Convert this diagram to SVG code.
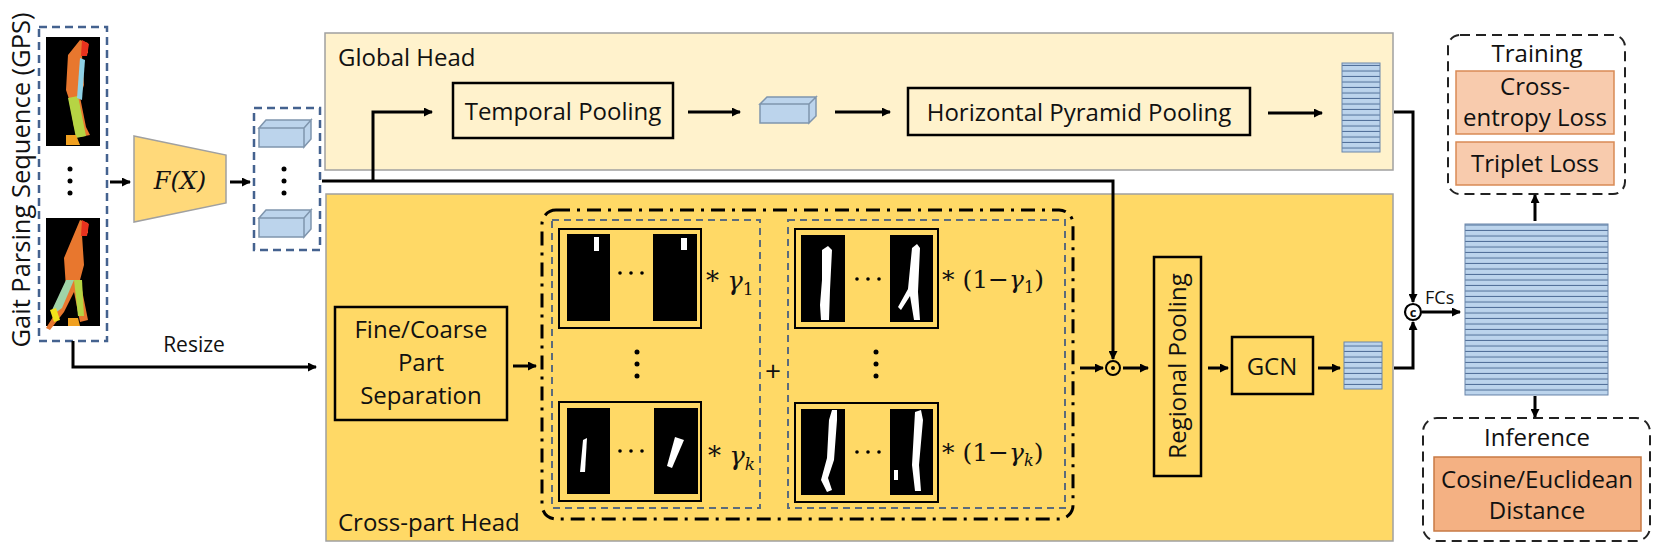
<svg xmlns="http://www.w3.org/2000/svg" width="1653" height="544" viewBox="0 0 1653 544">
<style>
text{font-family:"Open Sans","Noto Sans",sans-serif;fill:#111}
.box{fill:none;stroke:#000;stroke-width:2.5}
.ln{fill:none;stroke:#000;stroke-width:3}
.dash{fill:none;stroke:#44628f;stroke-width:2.5;stroke-dasharray:8,5}
.gdash{fill:none;stroke:#5b6b7c;stroke-width:2;stroke-dasharray:7,5}
.ddash{fill:none;stroke:#222;stroke-width:2;stroke-dasharray:10,6}
.cube{fill:#bcd4ec;stroke:#7f95ad;stroke-width:1.5}
.stack{fill:url(#stripe);stroke:#6b86aa;stroke-width:1}
.loss{fill:#f8cbad;stroke:#d98a55;stroke-width:1.5}
.loss2{fill:#f4b183;stroke:#c77a44;stroke-width:1.5}
.img{fill:#000}
.sil{fill:#fff}
.ibox{fill:none;stroke:#000;stroke-width:2}
.math{font-family:"DejaVu Serif","Liberation Serif",serif}
</style>
<defs>
<marker id="ah" markerWidth="9" markerHeight="9" refX="8" refY="4.5" orient="auto" markerUnits="userSpaceOnUse"><path d="M0,0 L9,4.5 L0,9 z" fill="#000"/></marker>
<pattern id="stripe" width="10" height="5.5" patternUnits="userSpaceOnUse"><rect width="10" height="5.5" fill="#bcd4ec"/><line x1="0" y1="5" x2="10" y2="5" stroke="#4e6d96" stroke-width="1"/></pattern>
</defs>

<g id="panels">
<rect id="global-head" x="325" y="33" width="1068" height="137" fill="#fff2cc" stroke="#a0a0a0" stroke-width="1.5"/>
<rect id="cross-part-head" x="326" y="194" width="1067" height="347" fill="#ffd966" stroke="#a0a0a0" stroke-width="1.5"/>
<text x="338" y="66" font-size="24">Global Head</text>
<text x="338" y="531" font-size="24">Cross-part Head</text>
</g>

<g id="gps">
<text transform="translate(30,180) rotate(-90)" font-size="26" text-anchor="middle" textLength="335" lengthAdjust="spacingAndGlyphs">Gait Parsing Sequence (GPS)</text>
<rect class="dash" x="39" y="27" width="68" height="314"/>
<rect class="img" x="46" y="37" width="54" height="109"/>
<path d="M80,40 l8,3 l0,10 l-6,2 l2,30 l-4,12 l6,30 l4,8 l-10,2 l-6,-10 l-4,-25 l-4,-12 l2,-35 z" fill="#e8772e"/>
<path d="M82,40 l7,4 l-2,12 l-6,0 z" fill="#e8321e"/>
<path d="M68,98 l10,-2 l8,40 l-10,2 z" fill="#b6d444"/>
<path d="M80,58 l5,2 l-3,40 l-5,-2 z" fill="#8ed1e6"/>
<path d="M66,135 l10,0 l4,10 l-14,0 z" fill="#f0a020"/>
<rect class="img" x="46" y="218" width="54" height="108"/>
<path d="M80,220 l8,3 l0,10 l-6,2 l2,30 l-4,15 l8,40 l-8,2 l-6,-30 l-10,20 l-14,18 l-4,-2 l14,-22 l6,-18 l-2,-30 z" fill="#e8772e"/>
<path d="M82,220 l7,4 l-2,12 l-6,0 z" fill="#e8321e"/>
<path d="M66,280 l8,0 l-12,28 l-8,6 l-2,-4 z" fill="#9fd3a8"/>
<path d="M74,280 l8,0 l2,36 l-6,0 z" fill="#b6d444"/>
<path d="M50,310 l6,-2 l4,12 l-6,2 z" fill="#f2e21a"/>
<path d="M68,318 l10,0 l2,8 l-12,0 z" fill="#f0a020"/>
<circle cx="70" cy="169" r="2.5"/><circle cx="70" cy="181" r="2.5"/><circle cx="70" cy="193" r="2.5"/>
</g>

<g id="fx">
<polygon points="134,136 226,155 226,203 134,222" fill="#ffd97a" stroke="#a0a0a0" stroke-width="1.5"/>
<text class="math" x="180" y="189" font-size="24" text-anchor="middle" font-style="italic">F(X)</text>
</g>

<g id="features">
<rect class="dash" x="254" y="108" width="66" height="142"/>
<path class="cube" d="M259,128 h45 v19 h-45 z M259,128 l7,-8 h45 l-7,8 z M304,128 l7,-8 v19 l-7,8 z"/>
<path class="cube" d="M259,218 h45 v19 h-45 z M259,218 l7,-8 h45 l-7,8 z M304,218 l7,-8 v19 l-7,8 z"/>
<circle cx="284" cy="169" r="2.5"/><circle cx="284" cy="181" r="2.5"/><circle cx="284" cy="193" r="2.5"/>
</g>

<g id="temporal-pooling">
<rect class="box" x="453" y="83" width="220" height="55"/>
<text x="563" y="120" font-size="24" text-anchor="middle">Temporal Pooling</text>
</g>
<g id="small-cube">
<path class="cube" d="M760,104 h49 v19 h-49 z M760,104 l7,-7 h49 l-7,7 z M809,104 l7,-7 v19 l-7,7 z"/>
</g>
<g id="hpp">
<rect class="box" x="908" y="88" width="342" height="47"/>
<text x="1079" y="121" font-size="24" text-anchor="middle">Horizontal Pyramid Pooling</text>
</g>
<rect id="global-feature" class="stack" x="1342" y="63" width="38" height="89"/>

<g id="fine-coarse">
<rect class="box" x="335" y="307" width="172" height="113"/>
<text x="421" y="338" font-size="24" text-anchor="middle">Fine/Coarse</text>
<text x="421" y="371" font-size="24" text-anchor="middle">Part</text>
<text x="421" y="404" font-size="24" text-anchor="middle">Separation</text>
</g>

<g id="part-maps">
<rect x="542" y="210" width="531" height="309" rx="14" fill="none" stroke="#000" stroke-width="3" stroke-dasharray="14,7,3,7"/>
<rect class="gdash" x="552" y="220" width="208" height="288"/>
<rect class="gdash" x="788" y="220" width="277" height="288"/>
<g id="fine-top">
<rect class="ibox" x="559" y="229" width="142" height="99"/>
<rect class="img" x="567" y="234" width="43" height="87"/>
<rect class="img" x="653" y="234" width="44" height="87"/>
<path class="sil" d="M594,237 h5 v14 h-5 z"/><path class="sil" d="M681,238 h6 v12 h-6 z"/>
<circle cx="620" cy="273" r="1.8"/><circle cx="631" cy="273" r="1.8"/><circle cx="642" cy="273" r="1.8"/>
<text class="math" x="706" y="290" font-size="26">* <tspan font-style="italic">γ</tspan><tspan font-size="17" dy="5">1</tspan></text>
</g>
<g id="fine-bottom">
<rect class="ibox" x="559" y="402" width="142" height="99"/>
<rect class="img" x="567" y="408" width="43" height="86"/>
<rect class="img" x="654" y="408" width="44" height="86"/>
<path class="sil" d="M583,440 l4,-2 l-2,34 l-5,0 z"/><path class="sil" d="M675,437 l9,3 l-12,28 l-5,-2 z"/>
<circle cx="620" cy="451" r="1.8"/><circle cx="631" cy="451" r="1.8"/><circle cx="642" cy="451" r="1.8"/>
<text class="math" x="708" y="465" font-size="26">* <tspan font-style="italic">γ</tspan><tspan font-size="17" dy="5" font-style="italic">k</tspan></text>
</g>
<circle cx="637" cy="352" r="2.5"/><circle cx="637" cy="364" r="2.5"/><circle cx="637" cy="376" r="2.5"/>
<text x="773" y="381" font-size="28" text-anchor="middle">+</text>
<g id="coarse-top">
<rect class="ibox" x="795" y="229" width="143" height="99"/>
<rect class="img" x="801" y="235" width="44" height="87"/>
<rect class="img" x="890" y="235" width="43" height="87"/>
<path class="sil" d="M822,250 l6,-4 l4,4 l-2,40 l-1,30 l-8,0 l-1,-15 l2,-25 z"/><path class="sil" d="M912,248 l5,-4 l3,4 l-2,44 l2,28 l-6,0 l-4,-24 l-9,14 l-3,-3 l10,-18 z"/>
<circle cx="857" cy="279" r="1.8"/><circle cx="868" cy="279" r="1.8"/><circle cx="879" cy="279" r="1.8"/>
<text class="math" x="942" y="288" font-size="25">* (1−<tspan font-style="italic">γ</tspan><tspan font-size="16" dy="5">1</tspan><tspan dy="-5">)</tspan></text>
</g>
<g id="coarse-bottom">
<rect class="ibox" x="795" y="403" width="143" height="99"/>
<rect class="img" x="801" y="409" width="44" height="86"/>
<rect class="img" x="890" y="409" width="43" height="86"/>
<path class="sil" d="M832,410 l5,0 l0,10 l-3,40 l-6,18 l4,12 l-5,2 l-6,-12 l6,-22 l2,-38 z"/><path class="sil" d="M915,412 l6,-2 l2,10 l-4,45 l2,26 l-6,0 l-3,-26 z M894,470 l4,0 l0,10 l-4,0 z"/>
<circle cx="857" cy="452" r="1.8"/><circle cx="868" cy="452" r="1.8"/><circle cx="879" cy="452" r="1.8"/>
<text class="math" x="942" y="461" font-size="25">* (1−<tspan font-style="italic">γ</tspan><tspan font-size="16" dy="5" font-style="italic">k</tspan><tspan dy="-5">)</tspan></text>
</g>
<circle cx="876" cy="352" r="2.5"/><circle cx="876" cy="364" r="2.5"/><circle cx="876" cy="376" r="2.5"/>
</g>

<g id="hadamard">
<circle cx="1113" cy="368" r="7" fill="none" stroke="#000" stroke-width="2"/><circle cx="1113" cy="368" r="2"/>
</g>
<g id="regional-pooling">
<rect class="box" x="1154" y="257" width="47" height="219"/>
<text transform="translate(1186,366) rotate(-90)" font-size="24" text-anchor="middle">Regional Pooling</text>
</g>
<g id="gcn">
<rect class="box" x="1232" y="337" width="81" height="57"/>
<text x="1272" y="375" font-size="24" text-anchor="middle">GCN</text>
</g>
<rect id="part-feature" class="stack" x="1344" y="342" width="38" height="47"/>

<g id="concat">
<circle cx="1413" cy="312" r="8" fill="#fff" stroke="#000" stroke-width="2.2"/>
<text x="1413" y="317" font-size="13" font-weight="bold" text-anchor="middle">c</text>
</g>
<text x="1425" y="304" font-size="18">FCs</text>
<rect id="final-feature" class="stack" x="1465" y="224" width="143" height="171"/>

<g id="training">
<rect class="ddash" x="1448" y="35" width="177" height="159" rx="12"/>
<text x="1537" y="62" font-size="24" text-anchor="middle">Training</text>
<rect class="loss" x="1456" y="71" width="158" height="63"/>
<text x="1535" y="95" font-size="24" text-anchor="middle">Cross-</text>
<text x="1535" y="126" font-size="24" text-anchor="middle">entropy Loss</text>
<rect class="loss" x="1456" y="142" width="158" height="43"/>
<text x="1535" y="172" font-size="24" text-anchor="middle">Triplet Loss</text>
</g>
<g id="inference">
<rect class="ddash" x="1423" y="418" width="227" height="123" rx="14"/>
<text x="1537" y="446" font-size="24" text-anchor="middle">Inference</text>
<rect class="loss2" x="1434" y="457" width="207" height="74"/>
<text x="1537" y="488" font-size="24" text-anchor="middle">Cosine/Euclidean</text>
<text x="1537" y="519" font-size="24" text-anchor="middle">Distance</text>
</g>

<g id="connectors">
<path class="ln" d="M110,182 H130" marker-end="url(#ah)"/>
<path class="ln" d="M230,182 H250" marker-end="url(#ah)"/>
<path class="ln" d="M322,181 H1113 V359" marker-end="url(#ah)"/>
<path class="ln" d="M373,181 V112 H432" marker-end="url(#ah)"/>
<path class="ln" d="M688,112 H740" marker-end="url(#ah)"/>
<path class="ln" d="M835,112 H890" marker-end="url(#ah)"/>
<path class="ln" d="M1268,113 H1322" marker-end="url(#ah)"/>
<path class="ln" d="M1394,112 H1413 V302" marker-end="url(#ah)"/>
<path class="ln" d="M1394,368 H1413 V322" marker-end="url(#ah)"/>
<path class="ln" d="M1422,312 H1460" marker-end="url(#ah)"/>
<path class="ln" d="M1535,221 V195" marker-end="url(#ah)"/>
<path class="ln" d="M1535,396 V417" marker-end="url(#ah)"/>
<path class="ln" d="M73,341 V367 H316" marker-end="url(#ah)"/>
<text x="194" y="352" font-size="21" text-anchor="middle">Resize</text>
<path class="ln" d="M513,366 H536" marker-end="url(#ah)"/>
<path class="ln" d="M1080,368 H1103" marker-end="url(#ah)"/>
<path class="ln" d="M1123,368 H1148" marker-end="url(#ah)"/>
<path class="ln" d="M1208,368 H1228" marker-end="url(#ah)"/>
<path class="ln" d="M1318,368 H1340" marker-end="url(#ah)"/>
</g>
</svg>
